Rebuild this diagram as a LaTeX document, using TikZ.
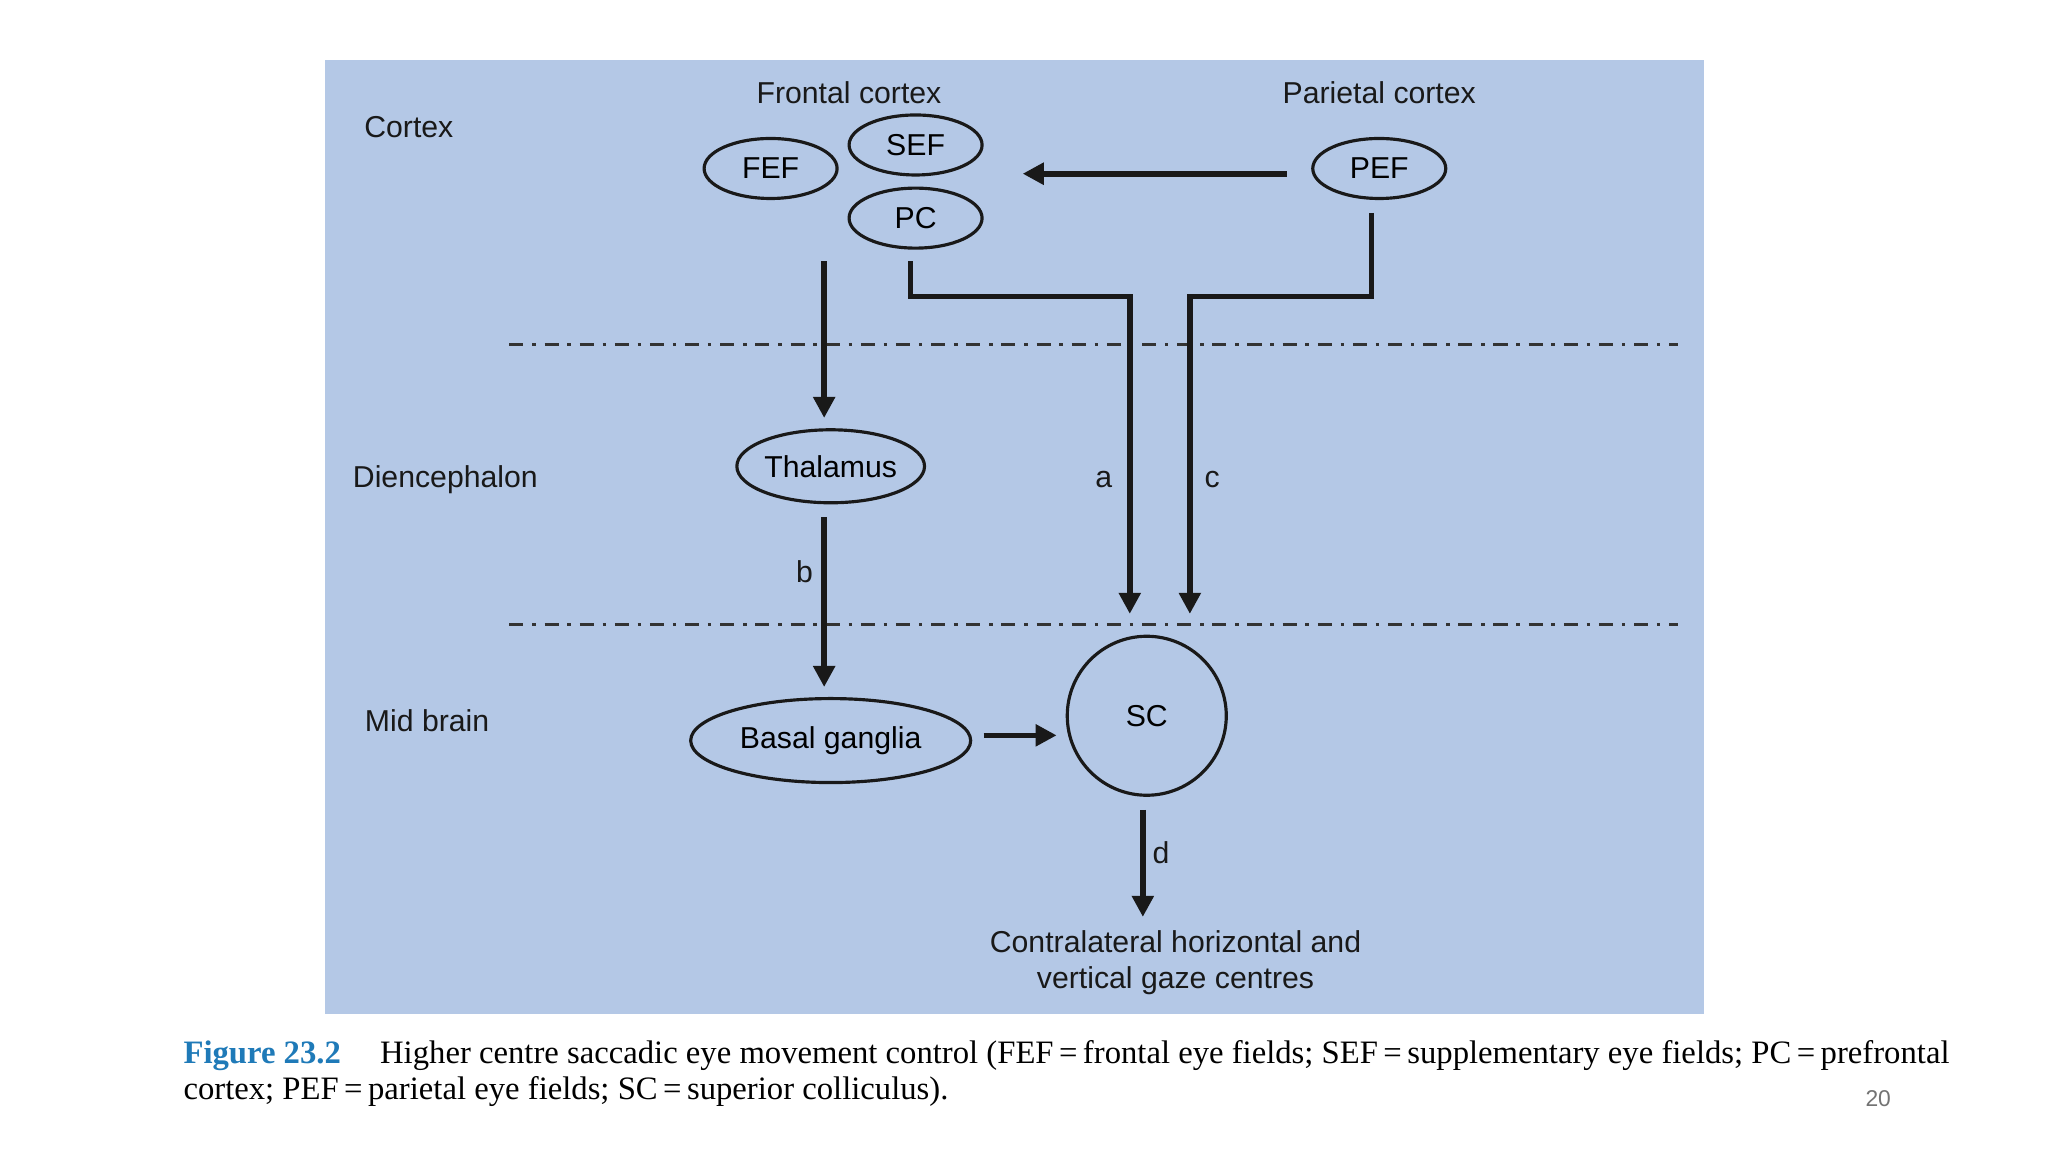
\documentclass[tikz,border=0pt]{standalone}
\usepackage{fontspec}
\setmainfont{Liberation Sans}
\newfontfamily\capfont{Liberation Serif}
\usetikzlibrary{arrows.meta,shapes.geometric}
\definecolor{bg}{HTML}{B4C8E6}
\definecolor{figblue}{HTML}{1F7AB8}
\begin{document}
\begin{tikzpicture}[x=0.013061cm,y=-0.013061cm,
  lbl/.style={font=\fontsize{8.6}{10}\selectfont,text=black!90},
  ell/.style={ellipse,draw=black!90,line width=0.9pt,inner sep=0pt,font=\fontsize{8.6}{10}\selectfont},
  arr/.style={line width=1.6pt,draw=black!90,-{Triangle[length=6pt,width=6pt]}},
  ln/.style={line width=1.6pt,draw=black!90},
  dd/.style={line width=0.8pt,dash pattern=on 4pt off 2.5pt on 1pt off 2.5pt,draw=black!80}]
\useasboundingbox (0,0) rectangle (1568,882);
\fill[white] (0,0) rectangle (1568,882);
\fill[bg] (249,46) rectangle (1305,776);
\node[lbl] (cortex) at (313,97) {Cortex};
\node[lbl] (frontal) at (650,71) {Frontal cortex};
\node[lbl] (parietal) at (1056,71) {Parietal cortex};
\node[lbl] (dien) at (341,367) {Diencephalon};
\node[lbl] (mid) at (327,552) {Mid brain};
\node[ell,minimum width=102\pgflinewidth*0+1.33cm,minimum height=0.6cm] (fef) at (590,129) {FEF};
\node[ell,minimum width=1.33cm,minimum height=0.6cm] (sef) at (701,111) {SEF};
\node[ell,minimum width=1.33cm,minimum height=0.6cm] (pc) at (701,167) {PC};
\node[ell,minimum width=1.33cm,minimum height=0.6cm] (pef) at (1056,129) {PEF};
\node[ell,minimum width=1.57cm,minimum height=0.73cm] (thal) at (636,357) {Thalamus};
\node[ell,minimum width=2.8cm,minimum height=0.84cm] (bg) at (636,567) {Basal ganglia};
\node[circle,draw=black!90,line width=0.9pt,minimum size=1.59cm,inner sep=0pt,font=\fontsize{8.6}{10}\selectfont] (sc) at (878,548) {SC};
\node[lbl,align=center] (gaze) at (900,737) {Contralateral horizontal and\\vertical gaze centres};
\draw[dd] (390,264) -- (1285,264);
\draw[dd] (390,478) -- (1285,478);
\coordinate (pefL) at (985,133); \coordinate (sefR) at (783,133);
\draw[arr] (pefL) -- (sefR);
\coordinate (f1) at (631,200); \coordinate (f2) at (631,320);
\draw[arr] (f1) -- (f2);
\coordinate (t1) at (631,396); \coordinate (t2) at (631,526);
\draw[arr] (t1) -- (t2);
\node[lbl] (b) at (616,438) {b};
\coordinate (pc1) at (697,200); \coordinate (a2) at (865,470);
\draw[arr] (pc1) -- (697,227) -- (865,227) -- (a2);
\node[lbl] (a) at (845,367) {a};
\coordinate (pe1) at (1050,163); \coordinate (c2) at (911,470);
\draw[arr] (pe1) -- (1050,227) -- (911,227) -- (c2);
\node[lbl] (c) at (928,367) {c};
\coordinate (bg1) at (753,563); \coordinate (sc1) at (809,563);
\draw[arr] (bg1) -- (sc1);
\coordinate (d1) at (875,620); \coordinate (d2) at (875,702);
\draw[arr] (d1) -- (d2);
\node[lbl] (d) at (889,653) {d};
\node[anchor=west,font=\capfont\fontsize{9.3}{11}\selectfont,inner sep=0pt] (cap1) at (140,808) {{\color{figblue}\bfseries Figure 23.2}\hspace{1.2em}Higher centre saccadic eye movement control (FEF\,=\,frontal eye fields; SEF\,=\,supplementary eye fields; PC\,=\,prefrontal};
\node[anchor=west,font=\capfont\fontsize{9.3}{11}\selectfont,inner sep=0pt] (cap2) at (140,836) {cortex; PEF\,=\,parietal eye fields; SC\,=\,superior colliculus).};
\node[font=\fontsize{6.5}{8}\selectfont,text=black!55] (pg) at (1438,841) {20};
\end{tikzpicture}
\end{document}
